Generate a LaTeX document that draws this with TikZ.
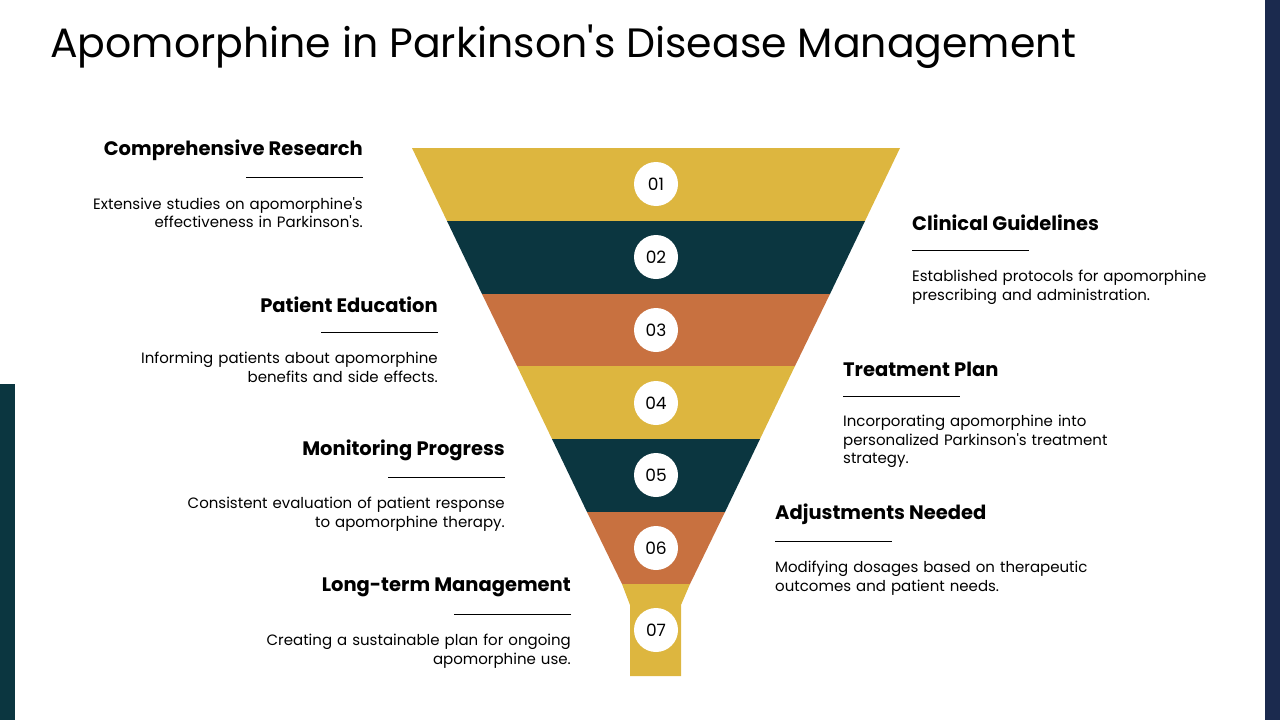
\documentclass[tikz,border=0pt]{standalone}
\usepackage{fontspec}
\setmainfont{Poppins}
\usetikzlibrary{positioning}
\definecolor{gold}{HTML}{DDB63F}
\definecolor{teal}{HTML}{0B3640}
\definecolor{rust}{HTML}{C87140}
\definecolor{navy}{HTML}{1B2A4E}
\newcommand{\ap}{\textquotesingle}
\begin{document}
\begin{tikzpicture}[x=1pt, y=-1pt,
    num/.style = {circle, fill=white, minimum size=44pt, inner sep=0pt, font=\fontsize{17}{17}\selectfont},
    head/.style = {inner sep=0pt, font=\fontsize{19.5}{22}\selectfont\bfseries},
    body/.style = {inner sep=0pt, font=\fontsize{15}{18.5}\selectfont, text width=360pt}]

    \useasboundingbox (0,0) rectangle (1280,720);
    \fill[navy] (1265,0) rectangle (1280,720);
    \fill[teal] (0,384) rectangle (15,720);
    \node[anchor=west, inner sep=0pt, font=\fontsize{41}{44}\selectfont] (title) at (50,47) {Apomorphine in Parkinson\ap s Disease Management};

    % Funnel bands
    \fill[gold] (412,148) -- (900,148) -- (865,221) -- (447,221) -- cycle;
    \fill[teal] (447,221) -- (865,221) -- (830,294) -- (482,294) -- cycle;
    \fill[rust] (482,294) -- (830,294) -- (795,366) -- (517,366) -- cycle;
    \fill[gold] (517,366) -- (795,366) -- (760,439) -- (552,439) -- cycle;
    \fill[teal] (552,439) -- (760,439) -- (725,512) -- (587,512) -- cycle;
    \fill[rust] (587,512) -- (725,512) -- (690,584) -- (622,584) -- cycle;
    \fill[gold] (622,584) -- (690,584) -- (681,605) -- (681,676) -- (630,676) -- (630,605) -- cycle;

    % Numbers
    \node[num] (n1) at (656,184) {01};
    \node[num] (n2) at (656,257) {02};
    \node[num] (n3) at (656,330) {03};
    \node[num] (n4) at (656,403) {04};
    \node[num] (n5) at (656,475) {05};
    \node[num] (n6) at (656,548) {06};
    \node[num] (n7) at (656,630) {07};

    % Left items
    \node[head, anchor=east] (h1) at (363,150) {Comprehensive Research};
    \draw (h1.east) ++(0,27) -- ++(-117,0);
    \node[body, anchor=north east, align=right] (b1) at (363,197) {Extensive studies on apomorphine\ap s\\effectiveness in Parkinson\ap s.};

    \node[head, anchor=east] (h3) at (438,305) {Patient Education};
    \draw (h3.east) ++(0,27) -- ++(-117,0);
    \node[body, anchor=north east, align=right] (b3) at (438,352) {Informing patients about apomorphine\\benefits and side effects.};

    \node[head, anchor=east] (h5) at (505,450) {Monitoring Progress};
    \draw (h5.east) ++(0,27) -- ++(-117,0);
    \node[body, anchor=north east, align=right] (b5) at (505,497) {Consistent evaluation of patient response\\to apomorphine therapy.};

    \node[head, anchor=east] (h7) at (571,587) {Long-term Management};
    \draw (h7.east) ++(0,27) -- ++(-117,0);
    \node[body, anchor=north east, align=right] (b7) at (571,634) {Creating a sustainable plan for ongoing\\apomorphine use.};

    % Right items
    \node[head, anchor=west] (h2) at (912,223) {Clinical Guidelines};
    \draw (h2.west) ++(0,27) -- ++(117,0);
    \node[body, anchor=north west, align=left] (b2) at (912,270) {Established protocols for apomorphine\\prescribing and administration.};

    \node[head, anchor=west] (h4) at (843,369) {Treatment Plan};
    \draw (h4.west) ++(0,27) -- ++(117,0);
    \node[body, anchor=north west, align=left] (b4) at (843,415) {Incorporating apomorphine into\\personalized Parkinson\ap s treatment\\strategy.};

    \node[head, anchor=west] (h6) at (775,514) {Adjustments Needed};
    \draw (h6.west) ++(0,27) -- ++(117,0);
    \node[body, anchor=north west, align=left] (b6) at (775,561) {Modifying dosages based on therapeutic\\outcomes and patient needs.};
\end{tikzpicture}
\end{document}
